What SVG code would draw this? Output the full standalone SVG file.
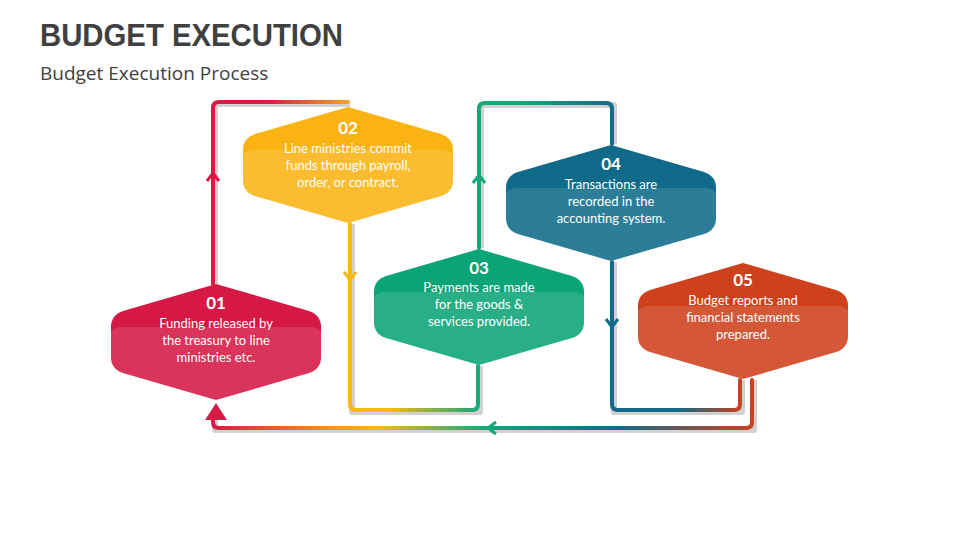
<svg xmlns="http://www.w3.org/2000/svg" width="960" height="540" viewBox="0 0 960 540">
<defs>
<style>
.t{font-family:Lato,"Liberation Sans",sans-serif;fill:#fff;text-anchor:middle}
.n{font-size:17px;font-weight:bold}
.b{font-size:13px}
.c{fill:none;stroke-width:4;stroke-linejoin:round;stroke-linecap:round}
.sh{fill:none;stroke:#999;stroke-opacity:.45;stroke-width:6;stroke-linejoin:round}
</style>
<path id="hex" d="M0,-58 L93,-31 Q105,-27 105,-15 L105,15 Q105,27 93,31 L0,58 L-93,31 Q-105,27 -105,15 L-105,-15 Q-105,-27 -93,-31 Z"/>
<clipPath id="hc"><use href="#hex"/></clipPath>
<linearGradient id="gr" x1="213" y1="0" x2="350" y2="0" gradientUnits="userSpaceOnUse"><stop offset="0.4" stop-color="#d81b46"/><stop offset="1" stop-color="#f6a623"/></linearGradient>
<linearGradient id="gy" x1="350" y1="0" x2="478" y2="0" gradientUnits="userSpaceOnUse"><stop offset="0.3" stop-color="#fbb713"/><stop offset="1" stop-color="#18a77a"/></linearGradient>
<linearGradient id="gg" x1="479" y1="0" x2="612" y2="0" gradientUnits="userSpaceOnUse"><stop offset="0.3" stop-color="#14a87a"/><stop offset="1" stop-color="#136d8a"/></linearGradient>
<linearGradient id="gb" x1="612" y1="0" x2="742" y2="0" gradientUnits="userSpaceOnUse"><stop offset="0.5" stop-color="#116a89"/><stop offset="1" stop-color="#c9421f"/></linearGradient>
<linearGradient id="gret" x1="213" y1="0" x2="752" y2="0" gradientUnits="userSpaceOnUse"><stop offset="0" stop-color="#d81b46"/><stop offset="0.2" stop-color="#f28a21"/><stop offset="0.3" stop-color="#fbb713"/><stop offset="0.5" stop-color="#18a77a"/><stop offset="0.75" stop-color="#116a89"/><stop offset="1" stop-color="#c9421f"/></linearGradient>
</defs>
<rect width="960" height="540" fill="#fff"/>
<text x="40" y="46" textLength="303" lengthAdjust="spacingAndGlyphs" style="font-family:'Liberation Sans',sans-serif;font-weight:bold;font-size:31px;fill:#404040">BUDGET EXECUTION</text>
<text x="40" y="80" style="font-family:'Open Sans','Liberation Sans',sans-serif;font-size:19px;fill:#404040">Budget Execution Process</text>
<g id="connectors">
<path class="sh" d="M215,284 V107 Q215,104 220,104 H350"/>
<path class="sh" d="M352,224 V412 H480 V366"/>
<path class="sh" d="M481,248 V105 H614 V144"/>
<path class="sh" d="M614,262 V412 H742 V380"/>
<path class="sh" d="M754,380 V430 H215 V415"/>
<path class="c" stroke="url(#gr)" d="M213,284 V108 Q213,102 219,102 H348"/>
<path class="c" stroke="url(#gy)" d="M350,224 V404 Q350,410 356,410 H472 Q478,410 478,404 V366"/>
<path class="c" stroke="url(#gg)" d="M479,248 V109 Q479,103 485,103 H606 Q612,103 612,109 V144"/>
<path class="c" stroke="url(#gb)" d="M612,262 V404 Q612,410 618,410 H734 Q740,410 740,404 V380"/>
<path class="c" stroke="url(#gret)" d="M752,380 V422 Q752,428 746,428 H219 Q213,428 213,422 V412"/>
<path d="M207,181 L213,173 L219,181" fill="none" stroke="#d81b46" stroke-width="3"/>
<path d="M344,272 L350,280 L356,272" fill="none" stroke="#fbb713" stroke-width="3"/>
<path d="M473,183 L479,175 L485,183" fill="none" stroke="#14a87a" stroke-width="3"/>
<path d="M606,319 L612,327 L618,319" fill="none" stroke="#116a89" stroke-width="3"/>
<path d="M496,422 L488,428 L496,434" fill="none" stroke="#14a87a" stroke-width="3"/>
<path d="M205,420 L216,403 L227,420 Z" fill="#d81b46"/>
</g>
<g id="node01" transform="translate(216,342)">
<use href="#hex" fill="#d61844"/><rect x="-110" y="-15" width="220" height="80" rx="16" fill="#fff" opacity=".12" clip-path="url(#hc)"/>
<text class="t n" y="-33">01</text><text class="t b" y="-14">Funding released by</text><text class="t b" y="3">the treasury to line</text><text class="t b" y="20">ministries etc.</text>
</g>
<g id="node02" transform="translate(348,165)">
<use href="#hex" fill="#fbb313"/><rect x="-110" y="-15" width="220" height="80" rx="16" fill="#fff" opacity=".12" clip-path="url(#hc)"/>
<text class="t n" y="-31">02</text><text class="t b" y="-12">Line ministries commit</text><text class="t b" y="5">funds through payroll,</text><text class="t b" y="22">order, or contract.</text>
</g>
<g id="node03" transform="translate(479,307)">
<use href="#hex" fill="#0ba477"/><rect x="-110" y="-15" width="220" height="80" rx="16" fill="#fff" opacity=".12" clip-path="url(#hc)"/>
<text class="t n" y="-33">03</text><text class="t b" y="-15">Payments are made</text><text class="t b" y="2">for the goods &amp;</text><text class="t b" y="19">services provided.</text>
</g>
<g id="node04" transform="translate(611,203)">
<use href="#hex" fill="#0f6b89"/><rect x="-110" y="-15" width="220" height="80" rx="16" fill="#fff" opacity=".12" clip-path="url(#hc)"/>
<text class="t n" y="-33">04</text><text class="t b" y="-14">Transactions are</text><text class="t b" y="3">recorded in the</text><text class="t b" y="20">accounting system.</text>
</g>
<g id="node05" transform="translate(743,321)">
<use href="#hex" fill="#cf401d"/><rect x="-110" y="-15" width="220" height="80" rx="16" fill="#fff" opacity=".12" clip-path="url(#hc)"/>
<text class="t n" y="-35">05</text><text class="t b" y="-16">Budget reports and</text><text class="t b" y="1">financial statements</text><text class="t b" y="18">prepared.</text>
</g>
</svg>
